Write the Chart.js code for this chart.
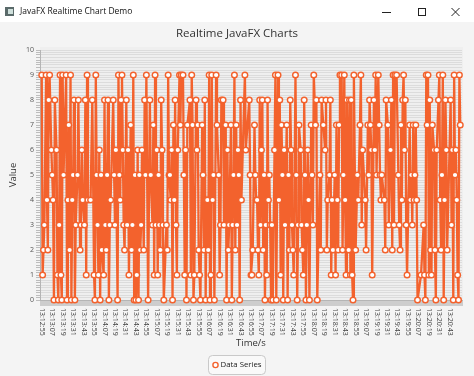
<!DOCTYPE html>
<html>
<head>
<meta charset="utf-8">
<script src="https://cdn.jsdelivr.net/npm/chart.js@4/dist/chart.umd.min.js"></script>
<style>
  html, body { margin: 0; padding: 0; background: #f4f4f4; }
  #c { display: block; }
</style>
</head>
<body>
<canvas id="c" width="474" height="376"></canvas>
<script>
// ---------- DATA ----------
const windowTitle = 'JavaFX Realtime Chart Demo';
const chartTitle = 'Realtime JavaFX Charts';
const xAxisTitle = 'Time/s';
const yAxisTitle = 'Value';
const seriesName = 'Data Series';
const startTime = '13:12:55';          // first sample, one sample per second
const sampleCount = 481;               // 13:12:55 ... 13:20:55
// tick labels that the category axis shows
const tickLabels = ['13:12:55','13:13:07','13:13:19','13:13:31','13:13:43','13:13:55','13:14:07','13:14:19','13:14:31','13:14:43',
  '13:14:55','13:15:07','13:15:19','13:15:31','13:15:43','13:15:55','13:16:07','13:16:19','13:16:31','13:16:43',
  '13:16:55','13:17:07','13:17:19','13:17:31','13:17:43','13:17:55','13:18:07','13:18:19','13:18:31','13:18:43',
  '13:18:55','13:19:07','13:19:19','13:19:31','13:19:43','13:19:55','13:20:07','13:20:19','13:20:31','13:20:43'];
const yTickValues = [0,1,2,3,4,5,6,7,8,9,10];
// value of each second (null = marker hidden under its neighbours, not readable)
const _ = null;
const seriesValues = [
  9,1,2,3,_,9,4,2,8,9,_,6,5,4,0,8,_,6,1,0,
  3,9,1,0,9,5,_,_,9,0,4,7,2,9,0,4,5,8,0,3,
  _,5,8,_,2,3,6,4,_,3,8,1,9,4,_,_,4,_,8,_,
  1,0,9,5,3,1,6,0,5,2,_,1,8,3,2,5,8,0,3,4,
  _,_,8,5,3,6,_,0,9,5,4,8,9,6,3,2,_,8,3,6,
  1,_,7,2,3,9,0,5,0,1,6,0,5,2,3,6,_,2,8,5,
  9,_,0,_,8,5,_,3,7,1,9,3,6,1,5,3,2,8,6,3,
  0,_,_,3,2,9,5,5,4,6,0,7,4,8,3,1,6,_,9,7,
  9,_,9,5,1,6,0,7,_,_,8,1,9,7,0,1,_,8,6,7,
  2,1,0,_,7,5,2,8,0,4,4,2,9,0,1,9,4,5,0,_,
  9,7,_,5,1,3,8,_,8,3,_,7,0,6,2,3,_,7,0,3,
  5,9,2,7,3,6,5,0,8,4,_,_,_,9,6,_,_,_,8,5,
  1,1,2,_,7,5,4,4,2,1,8,3,6,8,2,5,0,3,1,8,
  4,5,3,0,3,0,_,6,9,0,_,9,4,8,1,7,5,0,6,3,
  _,7,0,5,2,8,6,3,2,1,_,9,5,0,3,7,_,6,3,2,
  1,8,5,0,3,6,4,0,_,7,5,3,9,_,7,8,0,_,_,5,
  2,8,_,7,_,6,8,2,4,_,5,8,1,4,2,_,5,1,7,4,
  2,7,9,_,9,2,5,9,4,1,8,_,2,8,1,8,1,0,9,_,
  2,_,5,4,_,7,9,3,6,_,_,4,2,_,7,5,8,7,6,1,
  _,8,6,9,5,_,9,7,5,4,5,_,_,4,2,8,_,7,3,_,
  6,8,2,9,3,9,_,9,_,5,3,2,7,4,8,9,6,8,3,1,
  _,_,7,4,5,3,7,4,5,7,4,0,_,_,_,1,_,_,3,1,
  0,9,7,9,1,8,2,1,7,_,6,2,0,6,_,8,9,4,2,5,
  9,0,4,8,6,2,_,_,_,8,3,6,0,9,5,6,4,1,0,9,
  7
];

// ---------- build categories (one per second) ----------
function pad(n){ return (n < 10 ? '0' : '') + n; }
const categories = [];
(function(){
  const p = startTime.split(':').map(Number);
  let t = p[0]*3600 + p[1]*60 + p[2];
  for (let i = 0; i < sampleCount; i++, t++) {
    categories.push(pad(Math.floor(t/3600)) + ':' + pad(Math.floor(t/60)%60) + ':' + pad(t%60));
  }
})();
const points = [];
seriesValues.forEach((v, i) => { if (v !== null) points.push({ x: i, y: v }); });

// ---------- styling ----------
const ORANGE = '#f3622d';
const FONT = '"Open Sans", "Noto Sans", sans-serif';

const framePlugin = {
  id: 'frame',
  beforeDraw(chart) {
    const ctx = chart.ctx;
    ctx.save();
    ctx.fillStyle = '#f4f4f4';
    ctx.fillRect(0, 0, 474, 376);
    // window title bar
    ctx.fillStyle = '#ffffff';
    ctx.fillRect(0, 0, 474, 22);
    // icon
    ctx.fillStyle = '#5a6a6a';
    ctx.fillRect(5, 7, 9, 9);
    ctx.fillStyle = '#cfe0dc';
    ctx.fillRect(8, 9, 5, 5);
    ctx.fillStyle = '#111';
    ctx.font = '8.5px ' + FONT;
    ctx.textBaseline = 'middle';
    ctx.textAlign = 'left';
    ctx.fillText(windowTitle, 20, 12);
    ctx.strokeStyle = '#222';
    ctx.lineWidth = 1;
    ctx.beginPath(); ctx.moveTo(382, 12.5); ctx.lineTo(391, 12.5); ctx.stroke();
    ctx.strokeRect(418.5, 8.5, 7, 7);
    ctx.beginPath(); ctx.moveTo(451.5, 8); ctx.lineTo(459.5, 16); ctx.moveTo(459.5, 8); ctx.lineTo(451.5, 16); ctx.stroke();
    // chart title
    ctx.fillStyle = '#333';
    ctx.font = '11.5px ' + FONT;
    ctx.textAlign = 'center';
    ctx.fillText(chartTitle, 237, 34);
    // plot background
    const a = chart.chartArea;
    ctx.fillStyle = '#efefef';
    ctx.fillRect(a.left, a.top - 3, a.right - a.left + 1, a.bottom - a.top + 3);
    ctx.restore();
  },
  afterDraw(chart) {
    const ctx = chart.ctx;
    const xs = chart.scales.x;
    ctx.save();
    // rotated category labels
    ctx.fillStyle = '#444';
    ctx.font = '7px ' + FONT;
    ctx.textAlign = 'left';
    ctx.textBaseline = 'middle';
    tickLabels.forEach(lbl => {
      const i = categories.indexOf(lbl);
      const px = xs.getPixelForValue(i);
      ctx.save();
      ctx.translate(px, 308);
      ctx.rotate(Math.PI / 2);
      ctx.fillText(lbl, 0, 0);
      ctx.restore();
    });
    // legend
    const lx = 208, ly = 355, lw = 57, lh = 19;
    ctx.fillStyle = '#f9f9f9';
    ctx.strokeStyle = '#c9c9c9';
    ctx.lineWidth = 1;
    ctx.beginPath();
    ctx.roundRect(lx + 0.5, ly + 0.5, lw, lh, 4);
    ctx.fill(); ctx.stroke();
    ctx.beginPath();
    ctx.arc(lx + 7.5, ly + 10, 2.6, 0, Math.PI * 2);
    ctx.fillStyle = '#fff'; ctx.fill();
    ctx.strokeStyle = ORANGE; ctx.lineWidth = 1.4; ctx.stroke();
    ctx.fillStyle = '#222';
    ctx.font = '7.8px ' + FONT;
    ctx.textAlign = 'left';
    ctx.fillText(seriesName, lx + 12.5, ly + 10);
    ctx.restore();
  }
};

new Chart(document.getElementById('c'), {
  type: 'line',
  data: {
    datasets: [{
      label: seriesName,
      data: points,
      borderColor: ORANGE,
      borderWidth: 2.3,
      pointRadius: 2.8,
      pointBorderWidth: 1.4,
      pointBackgroundColor: '#ffffff',
      pointBorderColor: ORANGE,
      tension: 0,
      clip: 6
    }]
  },
  options: {
    responsive: false,
    animation: false,
    events: [],
    layout: { padding: { top: 50, left: 0, right: 12, bottom: 26 } },
    plugins: {
      legend: { display: false },
      title: { display: false },
      tooltip: { enabled: false }
    },
    scales: {
      x: {
        type: 'linear',
        min: -2,
        max: 482,
        afterFit(s) { s.height = 50; },
        ticks: { display: false, stepSize: 1, autoSkip: false },
        grid: { drawOnChartArea: false, drawTicks: true, tickLength: 6, color: '#cdcdcd', lineWidth: 1 },
        border: { display: true, color: '#b5b5b5' },
        title: { display: true, text: xAxisTitle, color: '#333', font: { family: FONT, size: 9.5 }, padding: { top: 0, bottom: 1 } }
      },
      y: {
        min: 0,
        max: 10,
        afterFit(s) { s.width = 40; },
        ticks: {
          stepSize: 0.1,
          autoSkip: false,
          padding: 2,
          color: '#555',
          font: { family: FONT, size: 7 },
          callback: v => {
            const r = Math.round(v);
            return (Math.abs(v - r) < 1e-6 && yTickValues.includes(r)) ? String(r) : '';
          }
        },
        grid: { color: '#dcdcdc', lineWidth: 1, tickLength: 4, tickColor: '#bdbdbd' },
        border: { display: true, color: '#b5b5b5' },
        title: { display: true, text: yAxisTitle, color: '#333', font: { family: FONT, size: 9.5 }, padding: { top: 8, bottom: 0 } }
      }
    }
  },
  plugins: [framePlugin]
});
</script>
</body>
</html>
